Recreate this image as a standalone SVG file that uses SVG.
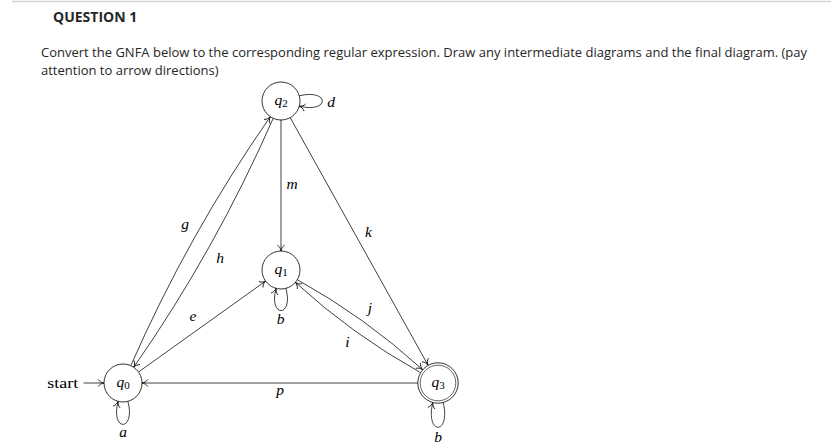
<svg xmlns="http://www.w3.org/2000/svg" width="831" height="447" viewBox="0 0 831 447">
<defs>
<marker id="to" markerUnits="userSpaceOnUse" markerWidth="12" markerHeight="12" viewBox="-8 -6 12 12" refX="0" refY="0" orient="auto" overflow="visible">
<path d="M-5.6,-3.3 C-4.6,-1.5 -2.2,-0.4 0,0 C-2.2,0.4 -4.6,1.5 -5.6,3.3" fill="none" stroke="#000" stroke-width="0.8" stroke-linecap="round"/>
</marker>
</defs>
<style>
.hdr{font-family:"Open Sans","Liberation Sans",sans-serif;fill:#262626}
.st{fill:#fff;stroke:#000;stroke-width:0.8}
.acc{fill:none;stroke:#222;stroke-width:0.7}
.e{fill:none;stroke:#000;stroke-width:0.75;marker-end:url(#to)}
.m{font-family:"Liberation Serif","DejaVu Serif",serif;font-style:italic;font-size:15.5px;fill:#000;text-anchor:middle}
.sub{font-style:normal;font-size:11px}
.rm{font-family:"Liberation Serif","DejaVu Serif",serif;font-size:15px;fill:#000}
</style>
<rect x="0" y="0" width="831" height="447" fill="#fff"/>
<g id="header">
<line x1="12" y1="1.5" x2="831" y2="1.5" stroke="#d4d4d4" stroke-width="1.5"/>
<text class="hdr" x="53" y="22" font-size="14" font-weight="bold">QUESTION 1</text>
<text class="hdr" x="41" y="56.5" font-size="13" textLength="766" lengthAdjust="spacing">Convert the GNFA below to the corresponding regular expression. Draw any intermediate diagrams and the final diagram. (pay</text>
<text class="hdr" x="41" y="74.5" font-size="13">attention to arrow directions)</text>
</g>
<g id="connectors">
<path class="e" d="M83.5,383 L104,383"/>
<path class="e" d="M130.8,365.7 Q188.3,234.4 270.3,116.7"/>
<path class="e" d="M273.2,118.3 Q215.7,249.6 133.7,367.3"/>
<path class="e" d="M138.5,372 L265.6,281.1"/>
<path class="e" d="M281,120 L281,251"/>
<path class="e" d="M290.2,117.6 L428,365.1"/>
<path class="e" d="M297.3,279.7 Q365.2,317.3 422.5,369.6"/>
<path class="e" d="M420.4,372.5 Q352.6,334.8 295.4,282.4"/>
<path class="e" d="M417.8,383 L142,383"/>
<path class="e" d="M299.3,95.8 C330,88.5 330,113.5 299.3,106.2"/>
<path class="e" d="M285.9,288.4 C294,318 268,318 276.1,288.4"/>
<path class="e" d="M127.9,401.4 C136,432 110,432 118.1,401.4"/>
<path class="e" d="M443.2,402.5 C451,435.5 425,435.5 432.8,402.5"/>
</g>
<g id="edge-labels">
<text class="rm" x="47.3" y="387.5" textLength="31" lengthAdjust="spacingAndGlyphs">start</text>
<text class="m" x="331" y="106.5">d</text>
<text class="m" x="292" y="188.5">m</text>
<text class="m" x="185" y="229">g</text>
<text class="m" x="220" y="263">h</text>
<text class="m" x="368.5" y="237">k</text>
<text class="m" x="193" y="320.5">e</text>
<text class="m" x="280.5" y="323.5">b</text>
<text class="m" x="370" y="313">j</text>
<text class="m" x="347.5" y="346.5">i</text>
<text class="m" x="280" y="395">p</text>
<text class="m" x="123" y="436.5">a</text>
<text class="m" x="438" y="441.5">b</text>
</g>
<g id="q0">
<circle class="st" cx="123" cy="383" r="19"/>
<text class="m" x="123" y="386.5">q<tspan class="sub" dy="2.3">0</tspan></text>
</g>
<g id="q1">
<circle class="st" cx="281" cy="270" r="19"/>
<text class="m" x="281" y="273.5">q<tspan class="sub" dy="2.3">1</tspan></text>
</g>
<g id="q2">
<circle class="st" cx="281" cy="101" r="19"/>
<text class="m" x="281" y="104.5">q<tspan class="sub" dy="2.3">2</tspan></text>
</g>
<g id="q3">
<circle class="st" cx="438" cy="383" r="20.2" stroke-width="0.7"/>
<circle class="acc" cx="438" cy="383" r="17.8"/>
<text class="m" x="438" y="386.5">q<tspan class="sub" dy="2.3">3</tspan></text>
</g>
</svg>
